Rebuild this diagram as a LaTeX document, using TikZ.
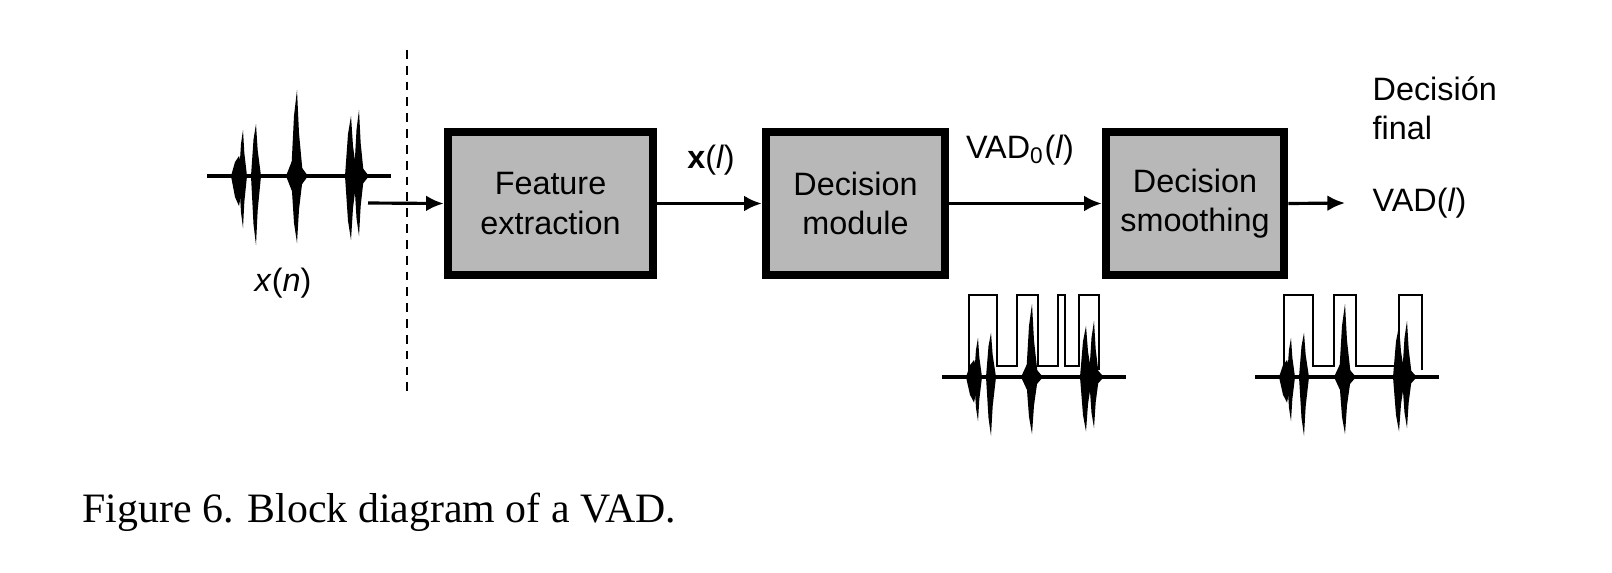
\documentclass[tikz,border=0pt]{standalone}
\usepackage{fontspec}
\setmainfont{Liberation Sans}
\newfontfamily\capfont{Liberation Serif}
\usepackage{tikz}
\usetikzlibrary{arrows.meta}
\tikzset{
  blk/.style={draw=black, line width=2.4pt, fill=black!28, minimum width=2.05cm, minimum height=1.43cm, align=center, font=\fontsize{9.2}{11.2}\selectfont},
  lbl/.style={font=\fontsize{9.2}{11.2}\selectfont, inner sep=0pt},
  flow/.style={-{Latex[length=5pt,width=4.5pt]}, line width=0.9pt}
}
% one speech burst: dx, up, down, half width
\newcommand{\burst}[4]{%
  \fill (#1-#4,0) -- (#1-#4/2,#2*0.7) -- (#1,#2) -- (#1+#4/3,#2*0.5) -- (#1+#4,0)
     -- (#1+#4/3,-#3*0.5) -- (#1,-#3) -- (#1-#4/2,-#3*0.7) -- cycle;}
\newcommand{\speech}[3]{%
  \begin{scope}[shift={(#1,#2)}, yscale=#3]
    \draw[line width=1pt] (0,0) -- (184,0);
    \burst{32}{20}{30}{8}
    \burst{36}{46}{52}{4}
    \burst{49}{52}{69}{5}
    \burst{90}{86}{67}{6}
    \burst{90}{20}{20}{11}
    \burst{144}{60}{64}{6}
    \burst{152}{66}{60}{5}
    \burst{150}{20}{20}{12}
  \end{scope}}
\begin{document}
\begin{tikzpicture}[x=0.01cm, y=-0.01cm]
 \useasboundingbox (0,0) rectangle (1612,572);
 %input signal
    \speech{207}{176}{-1}
    \node[lbl] (xn) at (283,283) {\textit{x}(\textit{n})};
    \draw[dash pattern=on 2.5pt off 2pt, line width=0.5pt] (407,50) -- (407,398);
    \coordinate (in) at (368,203);
 %blocks
    \node[blk] (fe) at (550.5,203.5) {Feature\\extraction};
    \node[blk, minimum width=1.79cm] (dm) at (855.5,203.5) {Decision\\module};
    \node[blk, minimum width=1.78cm] (ds) at (1195,203.5) {Decision\\smoothing};
    \coordinate (out) at (1345,203);
    \draw[flow] (in) -- (fe.west);
    \draw[flow] (fe.east) -- (dm.west);
    \draw[flow] (dm.east) -- (ds.west);
    \draw[flow] (ds.east) -- (out);
 %labels
    \node[lbl] (xl) at (711,160) {\textbf{x}(\textit{l})};
    \node[lbl] (vad0) at (1020,150) {VAD\textsubscript{0}(\textit{l})};
    \node[lbl, anchor=west, align=left] (fin) at (1372,108) {Decisión\\final};
    \node[lbl, anchor=west] (vad) at (1372,203) {VAD(\textit{l})};
 %VAD outputs
    \speech{942}{377}{-0.85}
    \draw[line width=0.5pt] (969,375) -- (969,295) -- (997,295) -- (997,366) -- (1017,366) -- (1017,295)
      -- (1038,295) -- (1038,366) -- (1058,366) -- (1058,295) -- (1065,295) -- (1065,366)
      -- (1079,366) -- (1079,295) -- (1099,295) -- (1099,370);
    \speech{1255}{377}{-0.85}
    \draw[line width=0.5pt] (1284,375) -- (1284,295) -- (1313,295) -- (1313,366) -- (1334,366) -- (1334,295)
      -- (1356,295) -- (1356,366) -- (1399,366) -- (1399,295) -- (1422,295) -- (1422,370);
 %caption
    \node[anchor=west, inner sep=0pt, font=\capfont\fontsize{11.9}{14}\selectfont] (cap) at (82,512) {Figure 6. Block diagram of a VAD.};
\end{tikzpicture}
\end{document}
